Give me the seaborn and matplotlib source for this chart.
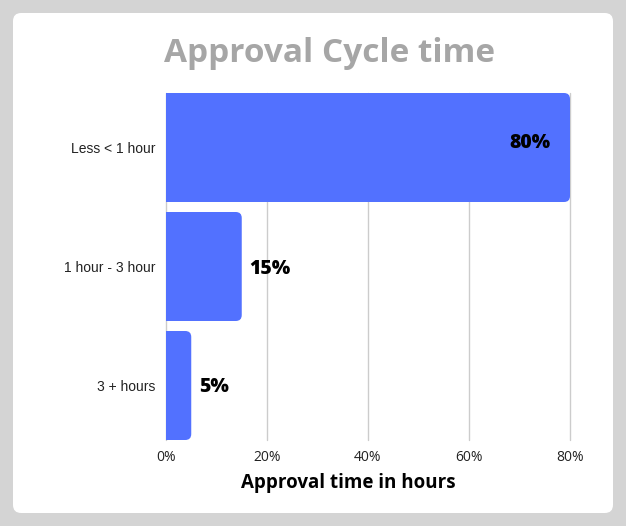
import matplotlib
matplotlib.use("Agg")
import matplotlib.pyplot as plt
import seaborn as sns
import pandas as pd
from matplotlib.patches import FancyBboxPatch

categories = ["Less < 1 hour", "1 hour - 3 hour", "3 + hours"]
values = [80, 15, 5]
x_ticks = [0, 20, 40, 60, 80]
x_tick_labels = ["0%", "20%", "40%", "60%", "80%"]
title = "Approval Cycle time"
x_label = "Approval time in hours"

BAR = "#5271FF"
BG = "#D4D4D4"
TITLE_C = "#A6A6A6"

sns.set_theme(style="white")
plt.rcParams["font.family"] = ["Open Sans", "DejaVu Sans"]

W, H = 626, 526
fig = plt.figure(figsize=(W / 100, H / 100), dpi=100, facecolor=BG)

# white rounded card
card = FancyBboxPatch((13 / W, 13 / H), 600 / W, 500 / H,
                      boxstyle="round,pad=0,rounding_size=0.013",
                      mutation_aspect=W / H,
                      transform=fig.transFigure, facecolor="white",
                      edgecolor="none", zorder=-5)
fig.patches.append(card)

ax = fig.add_axes([166 / W, 1 - 440 / H, 404 / W, 347 / H])
ax.set_facecolor("none")
ax.set_zorder(2)

df = pd.DataFrame({"cat": categories, "val": values})
width = 109 / 119
sns.barplot(data=df, y="cat", x="val", orient="h", color=BAR,
            width=width, saturation=1, ax=ax)

ax.set_xlim(0, 80)
ax.set_ylim(2 + width / 2, -width / 2)

# replace bars with rounded-corner versions
x_per_px = 80 / 404
y_per_px = (2 + width) / 347
aspect = y_per_px / x_per_px
for p in list(ax.patches):
    x0, y0 = p.get_x(), p.get_y()
    w, h = p.get_width(), p.get_height()
    p.set_visible(False)
    rb = FancyBboxPatch((x0 - 3, y0), w + 3, h,
                        boxstyle="round,pad=0,rounding_size=%f" % (6 * x_per_px),
                        mutation_aspect=aspect, facecolor=BAR,
                        edgecolor="none", zorder=2, clip_on=True)
    ax.add_patch(rb)
    rb.set_clip_path(ax.patch)

ax.set_xticks(x_ticks)
ax.set_xticklabels(x_tick_labels, fontsize=10, color="#222222",
                   fontfamily=["Open Sans", "DejaVu Sans"])
ax.tick_params(axis="x", length=0, pad=7)
ax.tick_params(axis="y", length=0, pad=7.5)
for t in ax.get_yticklabels():
    t.set_fontfamily(["Liberation Sans", "DejaVu Sans"])
    t.set_fontsize(10)
    t.set_color("#222222")

ax.grid(axis="x", color="#CCCCCC", linewidth=1)
ax.grid(axis="y", visible=False)
for gl in ax.get_xgridlines():
    gl.set_clip_on(False)
ax.set_axisbelow(True)
for s in ax.spines.values():
    s.set_visible(False)

ax.set_ylabel("")
ax.set_xlabel(x_label, fontsize=13.5, fontweight="bold", color="black",
              va="baseline")
ax.xaxis.set_label_coords((348.5 - 166) / 404, -(488 - 440) / 347)

# value labels
for i, v in enumerate(values):
    lab = f"{v}%"
    if v >= 50:
        ax.annotate(lab, (v, i), xytext=(-19, 5), textcoords="offset pixels",
                    ha="right", va="center", fontsize=14, fontweight="heavy",
                    color="black", zorder=5)
    else:
        ax.annotate(lab, (v, i), xytext=(8, -2), textcoords="offset pixels",
                    ha="left", va="center", fontsize=14, fontweight="heavy",
                    color="black", zorder=5)

fig.text(164 / W, 1 - 62 / H, title, fontsize=24, fontweight="bold",
         color=TITLE_C, ha="left", va="baseline")

fig.savefig("out.png", dpi=100, facecolor=BG)
